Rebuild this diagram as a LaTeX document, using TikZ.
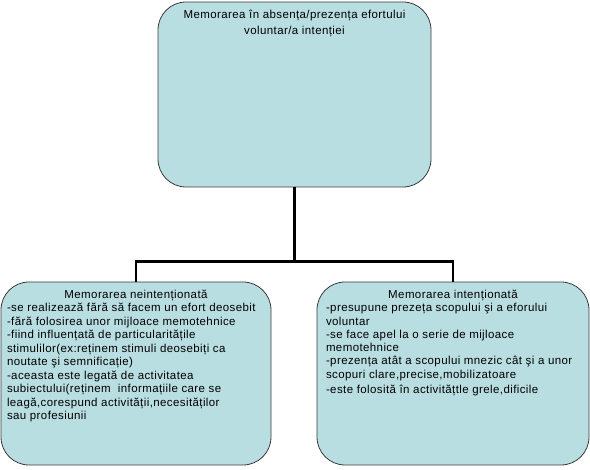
\documentclass[tikz,border=0pt]{standalone}
\usepackage{fontspec}
\setmainfont{Liberation Sans}[LetterSpace=3.5]
\definecolor{cardfill}{HTML}{B9DEE2}
\definecolor{cardline}{HTML}{3A3A3A}
\newcommand{\cardtext}[4]{\parbox[t][#2][t]{#1}{\fontsize{11.5}{#3}\selectfont #4}}
\tikzset{
  card/.style={draw=cardline,line width=0.8pt,fill=cardfill,rounded corners=28pt,inner xsep=6pt,inner ysep=8pt},
  conn/.style={line width=2.8pt,black}
}
\begin{document}
\begin{tikzpicture}[x=1pt,y=-1pt]
  \useasboundingbox (0,0) rectangle (590,470);
  \node[card] (top) at (294.5,94.5) {\cardtext{261pt}{169pt}{16}{\centering Memorarea în absența/prezența efortului\\voluntar/a intenției\par}};
  \node[card] (left) at (136,373.5) {\cardtext{258pt}{167pt}{13.5}{{\centering Memorarea neintenționată\par}\raggedright
    -se realizează fără să facem un efort deosebit\\
    -fără folosirea unor mijloace memotehnice\\
    -fiind influențată de particularitățile\\
    stimulilor(ex:reținem stimuli deosebiți ca\\
    noutate şi semnificație)\\
    -aceasta este legată de activitatea\\
    subiectului(reținem\ \ informațiile care se\\
    leagă,corespund activității,necesităților\\
    sau profesiunii\par}};
  \node[card] (right) at (453,373.5) {\cardtext{260pt}{167pt}{13.3}{{\centering Memorarea intenționată\par}\raggedright
    \hspace*{3pt}-presupune prezeța scopului şi a eforului\\
    \hspace*{3pt}voluntar\\
    \hspace*{3pt}-se face apel la o serie de mijloace\\
    \hspace*{3pt}memotehnice\\
    \hspace*{3pt}-prezența atât a scopului mnezic cât şi a unor\\
    \hspace*{3pt}scopuri clare,precise,mobilizatoare\\[1.5pt]
    \hspace*{3pt}-este folosită în activitățtle grele,dificile\par}};
  \draw[conn] (top.south) -- ++(0,74) -| (left.north);
  \draw[conn] (top.south) -- ++(0,74) -| (right.north);
\end{tikzpicture}
\end{document}
